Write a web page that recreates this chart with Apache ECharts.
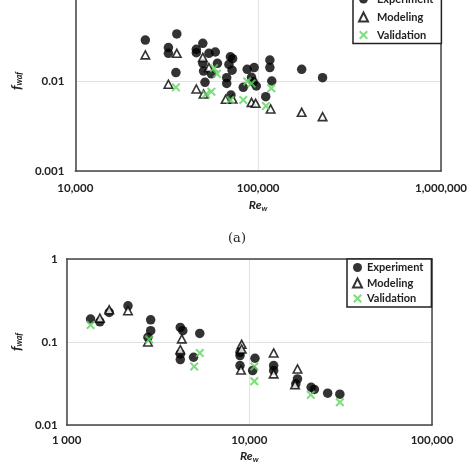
<!DOCTYPE html>
<html><head><meta charset="utf-8">
<script src="https://cdn.jsdelivr.net/npm/echarts@6/dist/echarts.min.js"></script>
<style>html,body{margin:0;padding:0;background:#fff;overflow:hidden;width:474px;height:474px}#c{position:absolute;left:0;top:-20px;width:474px;height:494px}</style>
</head><body><div id="c"></div>
<script>
// ---- Chart (a): top ----
var topExpRe = [24150,32300,32300,35900,35500,45900,45900,49800,49800,50300,51200,53800,58300,55500,59900,67300,67300,70500,72500,69200,72000,71000,82900,87100,95100,92000,94000,97700,110000,115900,115900,118700,173000,225000];
var topExpF  = [0.0285,0.0235,0.0203,0.0333,0.0124,0.0225,0.0206,0.0262,0.0157,0.0129,0.00967,0.0203,0.021,0.012,0.0157,0.0109,0.0094,0.0186,0.0177,0.0153,0.0132,0.00699,0.0085,0.0135,0.0141,0.011,0.0098,0.0088,0.0067,0.0171,0.0141,0.01,0.0135,0.0109];
var topModRe = [24150,32300,35900,45900,49800,50300,53800,66400,72500,92000,96900,117000,173000,225000];
var topModF  = [0.0195,0.0092,0.0203,0.00815,0.0183,0.00717,0.0141,0.00626,0.0063,0.00579,0.00565,0.00489,0.00449,0.00402];
var topValRe = [35500,51800,55500,57400,59500,70500,82900,87100,92000,110300,118000];
var topValF  = [0.0085,0.00711,0.00761,0.0139,0.012,0.00615,0.00615,0.0099,0.0094,0.00527,0.0083];
var topXTicks = [10000,100000,1000000];
var topYTicks = [0.001,0.01,0.1];

// ---- Chart (b): bottom ----
var botExpRe = [1352,1520,1710,2167,2884,2884,2786,4188,4325,4190,4190,5355,4951,8893,8893,8893,10740,10430,13590,13590,17970,18350,21800,22700,26850,31300];
var botExpF  = [0.189,0.175,0.227,0.273,0.185,0.137,0.114,0.15,0.137,0.0718,0.0614,0.127,0.0655,0.0686,0.052,0.075,0.0637,0.0453,0.052,0.0453,0.0313,0.0359,0.0285,0.0268,0.0242,0.0235];
var botModRe = [1520,1710,2167,2786,4270,4190,9080,9000,9080,13590,13590,18350,17800];
var botModF  = [0.194,0.244,0.238,0.1,0.109,0.0809,0.0937,0.0461,0.0824,0.0738,0.0413,0.0474,0.0305];
var botValRe = [1352,2830,4990,5355,10650,10650,21700,31300];
var botValF  = [0.16,0.107,0.0506,0.0738,0.0506,0.0337,0.0231,0.0188];
var botXTicks = [1000,10000,100000];
var botYTicks = [0.01,0.1,1];

var seriesNames = ['Experiment','Modeling','Validation'];

function zip(a,b){return a.map(function(v,i){return [v,b[i]];});}
function fmtX(v){
  if (Math.abs(v-1000)<1e-6) return '1 000';
  return Math.round(v).toString().replace(/\B(?=(\d{3})+(?!\d))/g, ',');
}
function fmtY(v){ return String(+v.toPrecision(3)); }

var FONT = 'Lato';
var GREEN = '#5fd35f';
var CROSS = 'path://M0,1.6L1.6,0L5,3.4L8.4,0L10,1.6L6.6,5L10,8.4L8.4,10L5,6.6L1.6,10L0,8.4L3.4,5Z';

function xAxis(gi, min, max){
  return {type:'log', logBase:10, gridIndex:gi, min:min, max:max,
    axisLine:{show:true, lineStyle:{color:'#444', width:1.5}},
    axisTick:{show:false}, minorTick:{show:false},
    splitLine:{show:true, lineStyle:{color:'#e2e2e2', width:1}},
    axisLabel:{formatter:fmtX, color:'#222', fontFamily:FONT, fontWeight:'bold', fontSize:11.5, margin:gi===0?11:9},
    name:'{i|Re}{s|w}', nameLocation:'middle', nameGap:gi===0?26:23,
    nameTextStyle:{rich:{
      i:{fontFamily:FONT, fontStyle:'italic', fontWeight:'bold', fontSize:12, color:'#222', lineHeight:16},
      s:{fontFamily:FONT, fontStyle:'italic', fontWeight:'bold', fontSize:8, color:'#222', padding:[7,0,0,0], lineHeight:16}
    }}
  };
}
function xAxisTop(gi, min, max){
  return {type:'log', logBase:10, gridIndex:gi, min:min, max:max, position:'top',
    axisLine:{show:true, lineStyle:{color:'#444', width:1.5}},
    axisTick:{show:false}, axisLabel:{show:false}, splitLine:{show:false}};
}
function yAxis(gi, min, max){
  return {type:'log', logBase:10, gridIndex:gi, min:min, max:max,
    axisLine:{show:true, lineStyle:{color:'#444', width:1.5}},
    axisTick:{show:false}, minorTick:{show:false},
    splitLine:{show:true, lineStyle:{color:'#e2e2e2', width:1}},
    axisLabel:{formatter:fmtY, color:'#222', fontFamily:FONT, fontWeight:'bold', fontSize:11.5, margin:gi===0?11:9},
    name:'{i|f}{s|waf}', nameLocation:'middle', nameGap:gi===0?36:26, nameRotate:90,
    nameTextStyle:{rich:{
      i:{fontFamily:FONT, fontStyle:'italic', fontWeight:'bold', fontSize:14, color:'#222', lineHeight:16},
      s:{fontFamily:FONT, fontStyle:'italic', fontWeight:'bold', fontSize:8.5, color:'#222', padding:[7,0,0,0], lineHeight:16}
    }}
  };
}
function yAxisRight(gi, min, max){
  return {type:'log', logBase:10, gridIndex:gi, min:min, max:max, position:'right',
    axisLine:{show:true, lineStyle:{color:'#444', width:1.5}},
    axisTick:{show:false}, axisLabel:{show:false}, splitLine:{show:false}};
}

function series(gi, name, data){
  var s = {type:'scatter', name:name, xAxisIndex:gi*2, yAxisIndex:gi*2, data:data};
  if (name==='Experiment'){ s.symbol='circle'; s.symbolSize=9.5; s.itemStyle={color:'#000'}; }
  else if (name==='Modeling'){ s.symbol='triangle'; s.symbolSize=[8.5,8]; s.itemStyle={color:'#fff', borderColor:'#000', borderWidth:1.6}; }
  else { s.symbol=CROSS; s.symbolSize=9; s.itemStyle={color:GREEN}; }
  return s;
}

function legend(top, left, gap, padR, textPadL){
  return {show:true, orient:'vertical', top:top, left:left,
    data:seriesNames.map(function(n){return {name:n};}),
    backgroundColor:'#fff', borderColor:'#222', borderWidth:1.5, borderRadius:0,
    padding:[3,padR,3,5], itemGap:gap, itemWidth:9, itemHeight:9,
    textStyle:{fontFamily:FONT, fontWeight:'bold', fontSize:11, color:'#222', padding:[0,0,0,textPadL]},
    selectedMode:false};
}

var chart = echarts.init(document.getElementById('c'), null, {renderer:'canvas'});
var opt = {
  backgroundColor:'#fff',
  animation:false,
  title:{text:'(a)', left:'center', top:247, textStyle:{fontFamily:'DejaVu Serif', fontWeight:'normal', fontSize:13, color:'#222'}},
  grid:[
    {left:54, right:33, top:11, bottom:303},
    {left:63, right:42, top:279, bottom:49}
  ],
  xAxis:[xAxis(0,10000,1000000), xAxisTop(0,10000,1000000), xAxis(1,1000,100000), xAxisTop(1,1000,100000)],
  yAxis:[yAxis(0,0.001,0.1), yAxisRight(0,0.001,0.1), yAxis(1,0.01,1), yAxisRight(1,0.01,1)],
  legend:[legend(10.5,353,7,8,4), legend(279,347,4.5,8,0)],
  series:[
    series(0,'Experiment',zip(topExpRe,topExpF)),
    series(0,'Modeling',zip(topModRe,topModF)),
    series(0,'Validation',zip(topValRe,topValF)),
    series(1,'Experiment',zip(botExpRe,botExpF)),
    series(1,'Modeling',zip(botModRe,botModF)),
    series(1,'Validation',zip(botValRe,botValF))
  ]
};
chart.setOption(opt);
</script></body></html>
